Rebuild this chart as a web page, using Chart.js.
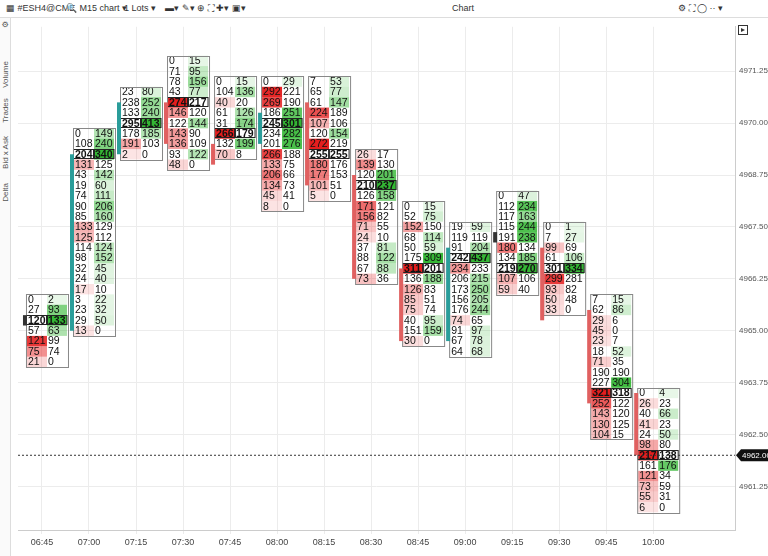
<!DOCTYPE html>
<html><head><meta charset="utf-8">
<script src="https://cdn.jsdelivr.net/npm/chart.js@4"></script>
<style>
body{margin:0;width:768px;height:556px;overflow:hidden;background:#fff;font-family:"Liberation Sans",Arial,sans-serif}
#bar{position:absolute;left:0;top:0;width:768px;height:17px;border-bottom:1px solid #ddd;font-size:9px;color:#333;line-height:17px}
#bar span{position:absolute}
#side{position:absolute;left:0;top:18px;width:10px;height:538px;border-right:1px solid #ddd;background:#fafafa}
#side div{position:absolute;left:-22px;width:54px;transform:rotate(-90deg);font-size:8px;color:#555;text-align:center}
#wrap{position:absolute;left:10px;top:18px;width:758px;height:538px}
</style></head><body>
<div id="bar"><span style="left:6px">▦ #ESH4@CME</span><span style="left:66px">🔍 M15 chart ▾</span><span style="left:124px">1 Lots ▾</span><span style="left:165px">▬▾ ✎▾ ⊕ ⛶ ✚▾ ▣▾</span><span style="left:452px">Chart</span><span style="left:678px">⚙ ⛶ ◯ ·· ▾</span></div>
<div id="side"><div style="top:2px">⚙</div><div style="top:52px">Volume</div><div style="top:88px">Trades</div><div style="top:130px">Bid x Ask</div><div style="top:170px">Delta</div></div>
<div id="wrap"><canvas id="c"></canvas></div>
<script>
const times = ['06:45','07:00','07:15','07:30','07:45','08:00','08:15','08:30','08:45','09:00','09:15','09:30','09:45','10:00'];
const topPrices = [4965.75,4969.75,4970.75,4971.5,4971.0,4971.0,4971.0,4969.25,4968.0,4967.5,4968.25,4967.5,4965.75,4963.5];
const bids = [
 [0,27,120,57,121,75,21],
 [0,108,204,131,43,19,74,90,85,133,125,114,98,32,24,17,3,23,29,13],
 [23,238,133,295,178,191,2],
 [0,71,78,43,274,146,122,143,136,93,48],
 [0,104,40,61,31,266,132,70],
 [0,292,269,186,245,234,201,266,133,206,134,45,8],
 [7,65,61,224,107,120,272,255,180,177,101,5],
 [26,139,120,210,126,171,156,71,24,37,88,67,73],
 [0,52,152,68,50,175,311,136,126,85,75,40,151,30],
 [19,119,91,242,234,206,173,156,176,74,91,67,64],
 [0,112,117,115,191,180,134,219,107,59],
 [0,7,99,61,301,299,93,50,33],
 [7,62,29,45,23,18,71,190,227,321,252,143,130,104],
 [0,26,40,41,24,98,217,161,121,73,55,6]
];
const asks = [
 [2,93,133,63,99,74,0],
 [149,240,340,125,142,60,111,206,160,129,112,124,152,45,40,10,22,32,50,0],
 [80,252,240,413,185,103,0],
 [15,95,156,77,217,120,144,90,109,122,0],
 [15,136,20,126,174,179,199,8],
 [29,221,190,251,301,282,276,188,75,66,73,41,0],
 [53,77,147,189,106,154,219,255,176,153,51,0],
 [17,130,201,237,158,121,82,55,10,81,122,88,36],
 [15,75,150,114,59,309,201,188,83,51,74,95,159,0],
 [59,119,204,437,233,215,250,205,244,65,97,78,68],
 [47,234,163,244,238,134,185,270,106,40],
 [1,27,69,106,334,281,82,48,0],
 [15,86,6,0,7,52,35,190,304,318,122,120,125,15],
 [4,23,66,23,50,80,138,176,34,59,31,0]
];
const opens = [4965.25,4965.0,4969.25,4970.5,4969.5,4969.5,4970.5,4968.75,4966.5,4964.75,4967.25,4967.0,4965.5,4963.5];
const closes = [4965.25,4969.25,4970.5,4969.5,4969.0,4970.25,4968.5,4966.25,4964.75,4967.0,4967.25,4965.25,4963.25,4962.0];
const priceTicks = [4961.25,4962.5,4963.75,4965.0,4966.25,4967.5,4968.75,4970.0,4971.25];
const lastPrice = 4962.0;
const TICK = 0.25;

const footprint = {
  id:'footprint',
  afterDatasetsDraw(chart){
    const {ctx, scales:{x,y}, chartArea:a} = chart;
    ctx.save();
    ctx.beginPath(); ctx.rect(a.left,a.top,a.right-a.left,a.bottom-a.top); ctx.clip();
    const rowH = Math.abs(y.getPixelForValue(4965)-y.getPixelForValue(4965+TICK));
    times.forEach((t,i)=>{
      const cx = x.getPixelForValue(i);
      const left = cx-16, w = 42;
      const b = bids[i], s = asks[i];
      const mx = Math.max(...b, ...s);
      let poc = 0;
      b.forEach((v,k)=>{ if(v+s[k] > b[poc]+s[poc]) poc = k; });
      const yTop = y.getPixelForValue(topPrices[i]) - rowH/2;
      b.forEach((bv,k)=>{
        const av = s[k];
        const yy = y.getPixelForValue(topPrices[i]-k*TICK) - rowH/2;
        if (bv > av) {
          const al = 0.12 + 0.88*Math.pow(bv/mx,1.5);
          ctx.fillStyle = `rgba(228,30,30,${al})`;
          ctx.fillRect(left+1, yy, 20, rowH);
        } else if (av > bv) {
          const al = 0.1 + 0.8*Math.pow(av/mx,1.5);
          ctx.fillStyle = `rgba(30,175,30,${al})`;
          ctx.fillRect(left+21, yy, 20, rowH);
        }
        ctx.font = (k===poc?'bold ':'') + '10.5px "Liberation Sans", Arial';
        ctx.fillStyle = '#111'; ctx.textBaseline='middle';
        ctx.fillText(String(bv), left+2, yy+rowH/2+0.5);
        ctx.fillText(String(av), left+22, yy+rowH/2+0.5);
        if (k===poc) {
          ctx.strokeStyle='#222'; ctx.lineWidth=1;
          ctx.strokeRect(left+0.5, Math.round(yy)+0.5, 20, Math.round(rowH)-1);
          ctx.strokeRect(left+21.5, Math.round(yy)+0.5, 19.5, Math.round(rowH)-1);
        }
      });
      ctx.strokeStyle='#888'; ctx.lineWidth=1;
      ctx.strokeRect(left+0.5, Math.round(yTop)+0.5, w, Math.round(b.length*rowH));
      // candle body
      const o=y.getPixelForValue(opens[i]), c=y.getPixelForValue(closes[i]);
      const up = closes[i]>opens[i], dn = closes[i]<opens[i];
      ctx.fillStyle = up ? '#2a9d9a' : dn ? '#e06060' : '#333';
      const h = Math.max(Math.abs(c-o), rowH);
      ctx.fillRect(left-3, Math.min(o,c)-(up||dn?0:rowH/2), 4, h);
    });
    // last price line
    const ly = y.getPixelForValue(lastPrice);
    ctx.setLineDash([2,2]); ctx.strokeStyle='#333';
    ctx.beginPath(); ctx.moveTo(a.left,ly); ctx.lineTo(a.right,ly); ctx.stroke();
    ctx.restore();
    ctx.save();
    ctx.fillStyle='#111';
    ctx.beginPath(); ctx.moveTo(a.right+1,ly); ctx.lineTo(a.right+6,ly-6); ctx.lineTo(a.right+33,ly-6); ctx.lineTo(a.right+33,ly+6); ctx.lineTo(a.right+6,ly+6); ctx.fill();
    ctx.fillStyle='#fff'; ctx.font='8px "Liberation Sans", Arial'; ctx.textBaseline='middle';
    ctx.fillText(lastPrice.toFixed(2), a.right+7, ly+0.5);
    ctx.strokeStyle='#333'; ctx.strokeRect(a.right+3.5, 7.5, 9, 9);
    ctx.fillStyle='#333'; ctx.beginPath(); ctx.moveTo(a.right+6,10); ctx.lineTo(a.right+10,12); ctx.lineTo(a.right+6,14); ctx.fill();
    ctx.restore();
  }
};

new Chart(document.getElementById('c'), {
  type:'scatter',
  data:{datasets:[{data:times.map((t,i)=>({x:i,y:topPrices[i]})), pointRadius:0}]},
  options:{
    responsive:true, maintainAspectRatio:false, animation:false,
    layout:{padding:{left:8,top:0,right:0,bottom:0}},
    plugins:{legend:{display:false},tooltip:{enabled:false}},
    scales:{
      x:{type:'linear', min:-0.51, max:14.74,
        afterBuildTicks(s){ s.ticks = times.map((t,i)=>({value:i})); },
        afterFit(s){ s.height = 26; },
        ticks:{callback:(v)=>times[v], font:{size:9,family:'Liberation Sans'}, color:'#444', maxRotation:0, autoSkip:false},
        grid:{color:'#ececec', drawTicks:true, tickLength:4}, border:{color:'#ccc'}},
      y:{type:'linear', position:'right', min:4960.2, max:4972.32,
        afterBuildTicks(s){ s.ticks = priceTicks.map(v=>({value:v})); },
        afterFit(s){ s.width = 33; },
        ticks:{callback:(v)=>v.toFixed(2), font:{size:8,family:'Liberation Sans'}, color:'#555', padding:4},
        grid:{color:'#ececec', drawTicks:false}, border:{color:'#ccc'}}
    }
  },
  plugins:[footprint]
});
</script></body></html>
